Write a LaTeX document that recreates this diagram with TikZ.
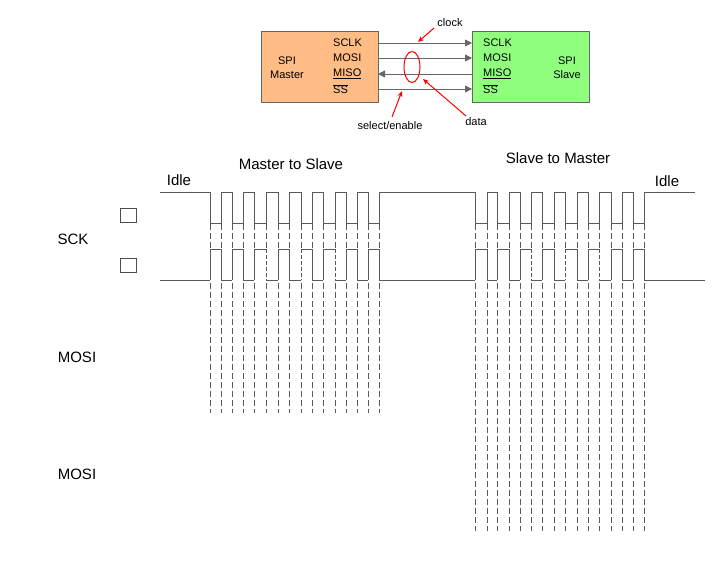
\documentclass[tikz,border=0pt]{standalone}
\usepackage{fontspec}
\setmainfont{Liberation Sans}
\usetikzlibrary{arrows.meta,shapes.geometric}
\begin{document}
\begin{tikzpicture}[x=1pt,y=-1pt,
  sig/.style={line width=0.9pt,black!65},
  guide/.style={line width=0.9pt,black!65,dash pattern=on 6pt off 3pt},
  bus/.style={line width=0.9pt,black!60},
  tip/.style={-{Triangle[length=7pt,width=7pt]}},
  lbl/.style={font=\fontsize{11}{12}\selectfont,inner sep=0pt},
  big/.style={font=\fontsize{15}{16}\selectfont,inner sep=0pt},
  note/.style={font=\fontsize{11}{12}\selectfont,inner sep=0pt},
  red arrow/.style={red,line width=1pt,-{Stealth[length=6pt,width=5pt]}}]
\useasboundingbox (0,0) rectangle (725,569);
% block diagram
\node[draw=black!60,fill=orange!45!white!95!red,minimum width=117pt,minimum height=71pt,anchor=north west,inner sep=0pt] (mst) at (261,31) {};
\node[draw=black!60,fill=green!45!white!90!lime,minimum width=117pt,minimum height=71pt,anchor=north west,inner sep=0pt] (slv) at (472,31) {};
\node[lbl,align=center] (mtxt) at (287,68) {SPI\\[2pt]Master};
\node[lbl,align=center] (stxt) at (567,68) {SPI\\[2pt]Slave};
\node[lbl,anchor=west] (m1) at (333,43) {SCLK};
\node[lbl,anchor=west] (m2) at (333,58) {MOSI};
\node[lbl,anchor=west] (m3) at (333,74) {\underline{MISO}};
\node[lbl,anchor=west] (m4) at (333,89) {$\overline{\mbox{SS}}$};
\node[lbl,anchor=west] (s1) at (483,43) {SCLK};
\node[lbl,anchor=west] (s2) at (483,58) {MOSI};
\node[lbl,anchor=west] (s3) at (483,74) {\underline{MISO}};
\node[lbl,anchor=west] (s4) at (483,89) {$\overline{\mbox{SS}}$};
\foreach \y/\n in {43/1,58/2,74/3,89/4}{
  \coordinate (ml\n) at (378,\y); \coordinate (sl\n) at (472,\y);}
\draw[bus,tip] (ml1) -- (sl1);
\draw[bus,tip] (ml2) -- (sl2);
\draw[bus,tip] (sl3) -- (ml3);
\draw[bus,tip] (ml4) -- (sl4);
\node[draw=red,line width=1pt,ellipse,minimum width=16pt,minimum height=31pt,inner sep=0pt] (ell) at (412,67) {};
\node[note] (clk) at (450,23) {clock};
\node[note] (sel) at (390,126) {select/enable};
\node[note] (dat) at (476,122) {data};
\coordinate (clkT) at (418,42);
\coordinate (selT) at (402,91);
\coordinate (datT) at (423,79);
\draw[red arrow] (434,28) -- (clkT);
\draw[red arrow] (392,117) -- (selT);
\draw[red arrow] (466,116) -- (datT);
% labels
\node[big] (m2s) at (291,164) {Master to Slave};
\node[big] (s2m) at (558,158) {Slave to Master};
\node[big] (idl) at (179,180) {Idle};
\node[big] (idr) at (667,181) {Idle};
\node[big] (sck) at (73,239) {SCK};
\node[big] (mo1) at (77,357) {MOSI};
\node[big] (mo2) at (77,474) {MOSI};
\node[draw=black!70,line width=0.7pt,minimum width=16pt,minimum height=14pt,inner sep=0pt] (b1) at (128,215) {};
\node[draw=black!70,line width=0.7pt,minimum width=16pt,minimum height=14pt,inner sep=0pt] (b2) at (128,265) {};
% upper clock
\foreach \a/\b in {210/221,232/243,254/266,278/289,301/312,323/335,346/357,368/379,
                   475/487,497/509,520/531,542/554,565/577,588/599,611/622,633/644}
  {\draw[sig] (\a,192)--(\a,223)--(\b,223)--(\b,192);
   \draw[sig] (\a,249)--(\b,249);}
\foreach \a/\b in {160/210,221/232,243/254,266/278,289/301,312/323,335/346,357/368,379/475,
                   487/497,509/520,531/542,554/565,577/588,599/611,622/633,644/695}
  {\draw[sig] (\a,192)--(\b,192);}
\foreach \a/\b in {160/210,221/232,243/254,266/278,289/301,312/323,335/346,357/368,379/475,
                   487/497,509/520,531/542,554/565,577/588,599/611,622/633,644/705}
  {\draw[sig] (\a,280)--(\b,280);}
% lower verticals
\foreach \x in {210,221,232,243,254,278,289,312,323,346,357,368,379,
                475,487,497,509,520,542,554,577,588,611,622,633,644}
  {\draw[sig] (\x,249)--(\x,280);}
\foreach \x in {266,301,335,531,565,599}
  {\draw[sig,dash pattern=on 4pt off 2pt] (\x,249)--(\x,280);}
% guides
\foreach \x in {210,221,232,243,254,266,278,289,301,312,323,335,346,357,368,379}
  {\draw[guide] (\x,224)--(\x,249); \draw[guide] (\x,283)--(\x,413);}
\foreach \x in {475,487,497,509,520,531,542,554,565,577,588,599,611,622,633,644}
  {\draw[guide] (\x,224)--(\x,249); \draw[guide] (\x,283)--(\x,531);}
\end{tikzpicture}
\end{document}
